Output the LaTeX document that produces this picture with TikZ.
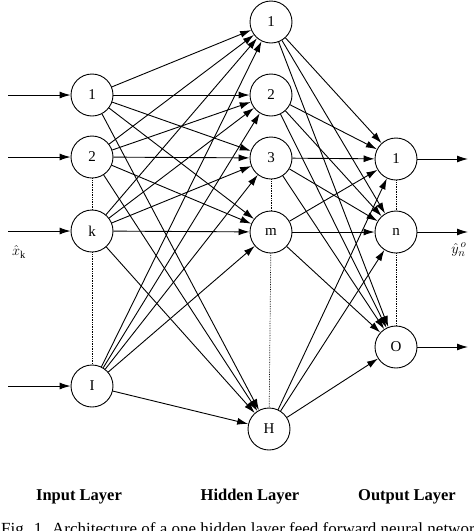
\documentclass[tikz,border=0pt]{standalone}
\usepackage{fontspec}
\setmainfont{Liberation Serif}
\usetikzlibrary{arrows.meta}
\begin{document}
\begin{tikzpicture}[x=1pt,y=-1pt,
  neuron/.style={circle,draw,line width=0.9pt,minimum size=42pt,inner sep=0pt,font=\fontsize{15}{15}\selectfont},
  conn/.style={line width=0.9pt,-{Latex[length=11pt,width=7pt]}},
  dots/.style={densely dotted,line width=0.7pt},
  lbl/.style={font=\bfseries\fontsize{16.5}{16.5}\selectfont},
  sym/.style={font=\fontsize{15}{15}\selectfont}]
\useasboundingbox (0,0) rectangle (474,531);
\clip (0,0) rectangle (474,531);
% input layer
\node[neuron] (i1) at (92,95) {1};
\node[neuron] (i2) at (92,157) {2};
\node[neuron] (ik) at (92,231) {k};
\node[neuron] (iI) at (92,386) {I};
% hidden layer
\node[neuron] (h1) at (271,22) {1};
\node[neuron] (h2) at (271,95) {2};
\node[neuron] (h3) at (271,158) {3};
\node[neuron] (hm) at (271,232) {m};
\node[neuron] (hH) at (269,429) {H};
% output layer
\node[neuron] (o1) at (396,159) {1};
\node[neuron] (on) at (396,232) {n};
\node[neuron] (oO) at (396,347) {O};
% dotted links
\draw[dots] (i2) -- (ik);
\draw[dots] (ik) -- (iI);
\draw[dots] (h3) -- (hm);
\draw[dots] (hm) -- (hH);
\draw[dots] (o1) -- (on);
\draw[dots] (on) -- (oO);
% inputs
\coordinate (a1) at (8,95);
\coordinate (a2) at (8,157);
\coordinate (ak) at (8,231);
\coordinate (aI) at (8,386);
\draw[conn] (a1) -- (i1);
\draw[conn] (a2) -- (i2);
\draw[conn] (ak) -- (ik);
\draw[conn] (aI) -- (iI);
% outputs
\coordinate (b1) at (468,159);
\coordinate (bn) at (468,232);
\coordinate (bO) at (468,347);
\draw[conn] (o1) -- (b1);
\draw[conn] (on) -- (bn);
\draw[conn] (oO) -- (bO);
% full connections
\foreach \a in {i1,i2,ik,iI}
  \foreach \b in {h1,h2,h3,hm,hH}
    \draw[conn] (\a) -- (\b);
\foreach \a in {h1,h2,h3,hm,hH}
  \foreach \b in {o1,on,oO}
    \draw[conn] (\a) -- (\b);
% symbols
\node[sym] (xk) at (19,252) {$\hat{x}_{\mathrm{k}}$};
\node[sym] (yn) at (459,250) {$\hat{y}^{\,o}_{n}$};
% layer labels
\node[lbl] (L1) at (79,497) {Input Layer};
\node[lbl] (L2) at (250,497) {Hidden Layer};
\node[lbl] (L3) at (407,497) {Output Layer};
% caption (cut by the lower edge)
\node[anchor=north west,inner sep=0pt,font=\fontsize{17}{17}\selectfont] (cap) at (1,522)
  {Fig. 1. Architecture of a one hidden layer feed forward neural network};
\end{tikzpicture}
\end{document}
